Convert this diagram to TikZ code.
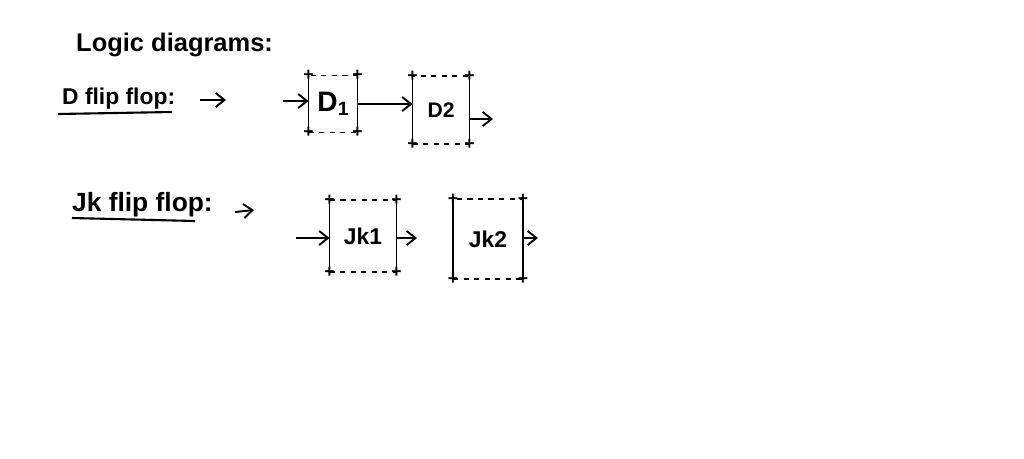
\documentclass[tikz,border=0pt]{standalone}
\usepackage{fontspec}
\setmainfont{Liberation Sans}
\usetikzlibrary{positioning,arrows.meta}

\tikzset{
  ffbox/.style={draw, dashed, line width=1pt, minimum width=#1, inner sep=0pt, outer sep=0pt},
  crossmark/.style={font=\normalsize\bfseries, inner sep=0pt},
  flow/.style={draw, line width=1.1pt, -{Straight Barb[length=5pt,width=8pt]}},
}

\begin{document}
\begin{tikzpicture}[x=0.02cm, y=-0.02cm]
\useasboundingbox (0,0) rectangle (1024,458);

\node[anchor=west, font=\fontsize{14.5}{18}\selectfont\bfseries] (title) at (70,45) {Logic diagrams:};

% D flip flop
\node[anchor=west, font=\fontsize{13}{16}\selectfont\bfseries] (dlabel) at (56,99) {D flip flop:};
\draw[line width=1.2pt] (58,114) -- (172,112);
\coordinate (da) at (200,100);
\coordinate (db) at (226,100);
\path[flow] (da) -- (db);

\node[ffbox=0.98cm, minimum height=1.14cm, font=\fontsize{16}{18}\selectfont\bfseries] (d1) at (333,104) {D\raisebox{-2pt}{\fontsize{11}{11}\selectfont 1}};
\node[ffbox=1.14cm, minimum height=1.36cm, font=\fontsize{12}{14}\selectfont\bfseries] (d2) at (441,110) {D2};

\coordinate (d1in) at (283,101);
\coordinate (d2out) at (493,119);
\path[flow] (d1in) -- (d1.west |- d1in);
\path[flow] (d1.east) -- (d1.east -| d2.west);
\path[flow] (d2.east |- d2out) -- (d2out);

% JK flip flop
\node[anchor=west, font=\fontsize{15}{18}\selectfont\bfseries] (jklabel) at (66,205) {Jk flip flop:};
\draw[line width=1.2pt] (72,218) -- (195,221);
\coordinate (ja) at (235,212);
\coordinate (jb) at (254,210);
\path[flow] (ja) -- (jb);

\node[ffbox=1.34cm, minimum height=1.44cm, font=\fontsize{13}{15}\selectfont\bfseries] (jk1) at (363,236) {Jk1};
\node[ffbox=1.40cm, minimum height=1.60cm, font=\fontsize{13}{15}\selectfont\bfseries] (jk2) at (488,239) {Jk2};

\coordinate (jk1in) at (296,238);
\coordinate (jk1out) at (417,238);
\coordinate (jk2out) at (538,238);
\path[flow] (jk1in) -- (jk1.west |- jk1in);
\path[flow] (jk1.east |- jk1out) -- (jk1out);
\path[flow] (jk2.east |- jk2out) -- (jk2out);

% solid sides and corner marks
\foreach \b in {d1,d2,jk1,jk2} {
  \draw[line width=1.1pt] (\b.north west) -- (\b.south west);
  \draw[line width=1.1pt] (\b.north east) -- (\b.south east);
  \foreach \a in {north west,north east,south west,south east}
    \node[crossmark] at (\b.\a) {+};
}
\end{tikzpicture}
\end{document}
